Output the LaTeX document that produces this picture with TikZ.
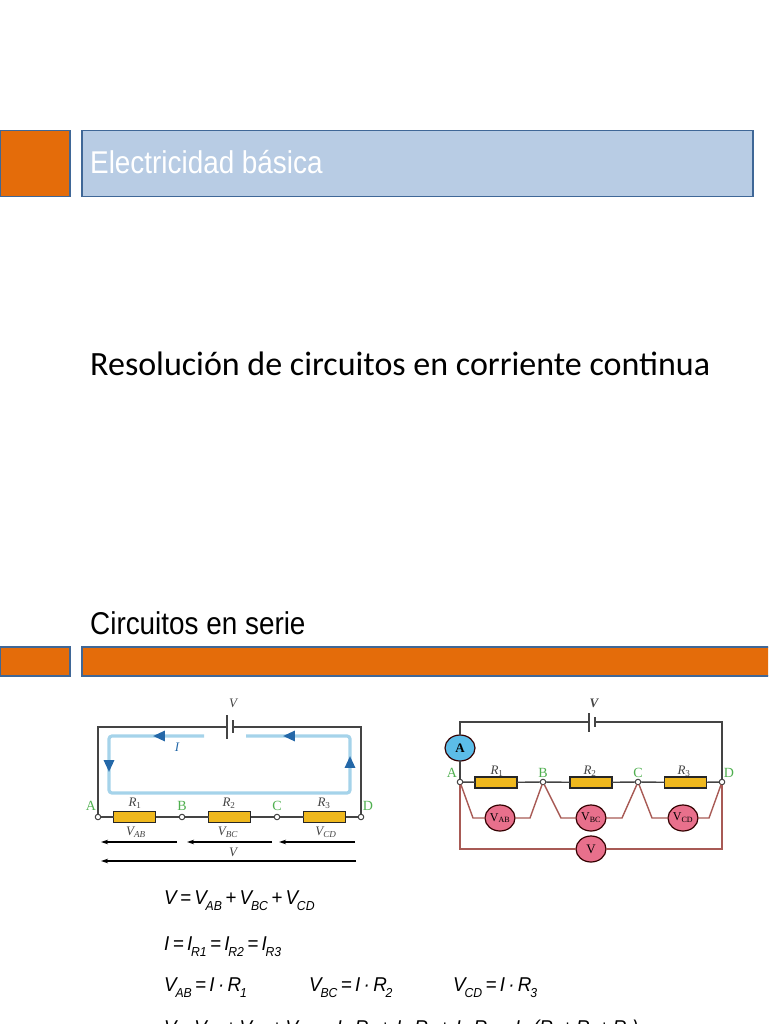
\documentclass[tikz,border=0pt]{standalone}
\usepackage{fontspec}
\setmainfont{Liberation Serif}
\newfontfamily\headfont[FakeStretch=0.885]{Liberation Sans}
\newfontfamily\slidefont{Carlito}
\newfontfamily\eqfont[FakeStretch=0.94]{Liberation Sans}
\definecolor{barorange}{HTML}{E46C0A}
\definecolor{barblue}{HTML}{B8CCE4}
\definecolor{baredge}{HTML}{3F6797}
\definecolor{flowblue}{HTML}{A5D3EA}
\definecolor{headblue}{HTML}{2468A8}
\definecolor{wiregray}{HTML}{444444}
\definecolor{wirered}{HTML}{A85A55}
\definecolor{resyellow}{HTML}{EFB81E}
\definecolor{labelgreen}{HTML}{4FAF4F}
\definecolor{ammblue}{HTML}{5CBDE8}
\definecolor{voltpink}{HTML}{E8708C}
\newcommand{\sbs}[2]{#1\kern-0.06em\raisebox{-0.3em}{\fontsize{13}{13}\selectfont #2}}
\tikzset{
  bar/.style={draw=baredge, line width=1.5pt},
  resbox/.style={draw=black!85, line width=1.4pt, fill=resyellow, minimum width=42pt, minimum height=11pt, inner sep=0pt, outer sep=0pt},
  junct/.style={circle, draw=wiregray, fill=white, line width=1pt, minimum size=5.5pt, inner sep=0pt, outer sep=0pt},
  letter/.style={text=labelgreen, font=\fontsize{14}{14}\selectfont},
  rlabel/.style={font=\fontsize{13}{13}\selectfont\itshape, text=wiregray},
  wire/.style={draw=wiregray, line width=1.4pt},
  rwire/.style={draw=wirered, line width=1.4pt},
  meter/.style={ellipse, draw=black!80!red, line width=1.2pt, fill=voltpink, minimum width=30pt, minimum height=26pt, inner sep=0pt, outer sep=0pt, font=\fontsize{12}{12}\selectfont},
  volt/.style={draw=black, line width=1.1pt, -{Stealth[length=7pt,width=4.5pt]}},
  flow/.style={draw=flowblue, line width=3.2pt, rounded corners=3pt},
  flowtip/.style={draw=none, fill=headblue, isosceles triangle, isosceles triangle apex angle=50, minimum height=9pt, minimum width=0pt, inner sep=2.8pt},
  eqn/.style={anchor=west, inner sep=0pt, font=\eqfont\itshape\fontsize{20}{20}\selectfont},
}
\usetikzlibrary{shapes.geometric,arrows.meta}
\begin{document}
\begin{tikzpicture}[x=1pt,y=-1pt]
      \useasboundingbox (0,0) rectangle (768,1024);
      \clip (0,0) rectangle (768,1024);
      % slide bars
      \node[bar, fill=barorange, minimum width=70pt, minimum height=66pt, anchor=north west, inner sep=0pt] (titlebox) at (-1,130) {};
      \node[bar, fill=barblue, minimum width=671pt, minimum height=66pt, anchor=north west, inner sep=0pt] (titlebar) at (81,130) {};
      \node[anchor=west, inner sep=0pt, text=white, font=\headfont\fontsize{31.5}{31.5}\selectfont] (title) at (90,162) {Electricidad básica};
      \node[anchor=west, inner sep=0pt, font=\slidefont\fontsize{34}{34}\selectfont] (subtitle) at (90,364) {Resolución de circuitos en corriente continua};
      \node[anchor=west, inner sep=0pt, font=\headfont\fontsize{31.5}{31.5}\selectfont] (serie) at (90,623) {Circuitos en serie};
      \node[bar, fill=barorange, minimum width=70pt, minimum height=29pt, anchor=north west, inner sep=0pt] (seriebox) at (-1,646) {};
      \node[bar, fill=barorange, minimum width=700pt, minimum height=29pt, anchor=north west, inner sep=0pt] (seriebar) at (81,646) {};
      % left circuit
      \node[junct] (a1) at (98,817) {};
      \node[junct] (b1) at (182,817) {};
      \node[junct] (c1) at (277,817) {};
      \node[junct] (d1) at (361,817) {};
      \node[resbox] (r11) at (134.5,817) {};
      \node[resbox] (r12) at (229.5,817) {};
      \node[resbox] (r13) at (324.5,817) {};
      \coordinate (p1) at (227,727);
      \coordinate (n1) at (233,727);
      \draw[wire] (a1) -- (r11) -- (b1) -- (r12) -- (c1) -- (r13) -- (d1);
      \draw[wire] (a1) |- (p1);
      \draw[wire] (d1) |- (n1);
      \draw[wiregray, line width=1.4pt] (227,715) -- (227,739);
      \draw[wiregray, line width=2.4pt] (233,720) -- (233,733);
      \node[rlabel] (top1) at (233,703) {V};
      \draw[flow] (204,736) -- (109,736) -- (109,793) -- (350,793) -- (350,736) -- (246,736);
      \node[flowtip, rotate=180] (h1) at (162,736) {};
      \node[flowtip, rotate=180] (h2) at (292,736) {};
      \node[flowtip, rotate=-90] (h3) at (109,763) {};
      \node[flowtip, rotate=90] (h4) at (350,765) {};
      \node[rlabel, text=headblue] (cur) at (177,747) {I};
      \node[letter] (la1) at (91,806) {A};
      \node[letter] (lb1) at (182,806) {B};
      \node[letter] (lc1) at (277,806) {C};
      \node[letter] (ld1) at (368,806) {D};
      \node[rlabel] at (135,803) {R\textsubscript{\upshape 1}};
      \node[rlabel] at (229,803) {R\textsubscript{\upshape 2}};
      \node[rlabel] at (324,803) {R\textsubscript{\upshape 3}};
      \node[rlabel] at (136,832) {V\textsubscript{AB}};
      \node[rlabel] at (228,832) {V\textsubscript{BC}};
      \node[rlabel] at (326,832) {V\textsubscript{CD}};
      \coordinate (s1) at (177,842);
      \coordinate (e1) at (101,842);
      \coordinate (s2) at (272,842);
      \coordinate (e2) at (187,842);
      \coordinate (s3) at (355,842);
      \coordinate (e3) at (279,842);
      \coordinate (s4) at (356,861);
      \coordinate (e4) at (101,861);
      \draw[volt] (s1) -- (e1);
      \draw[volt] (s2) -- (e2);
      \draw[volt] (s3) -- (e3);
      \draw[volt] (s4) -- (e4);
      \node[rlabel] (vall1) at (233,852) {V};
      % right circuit
      \node[junct] (a2) at (460,782) {};
      \node[junct] (b2) at (543,782) {};
      \node[junct] (c2) at (638,782) {};
      \node[junct] (d2) at (722,782) {};
      \node[resbox] (r21) at (496,782.5) {};
      \node[resbox] (r22) at (591,782.5) {};
      \node[resbox] (r23) at (685.5,782.5) {};
      \node[meter, fill=ammblue, font=\fontsize{13}{13}\selectfont\bfseries] (amp) at (460,748) {A};
      \node[meter] (vab) at (500,818) {V\textsubscript{AB}};
      \node[meter] (vbc) at (591,818) {V\textsubscript{BC}};
      \node[meter] (vcd) at (683,818) {V\textsubscript{CD}};
      \node[meter, font=\fontsize{13}{13}\selectfont] (vtot) at (591,849) {V};
      \coordinate (p2) at (589,722);
      \coordinate (n2) at (595,722);
      \draw[wire] (a2) -- (r21) -- (b2) -- (r22) -- (c2) -- (r23) -- (d2);
      \draw[wire] (a2) -- (amp);
      \draw[wire] (amp) |- (p2);
      \draw[wire] (d2) |- (n2);
      \draw[wiregray, line width=1.4pt] (589,713) -- (589,732);
      \draw[wiregray, line width=2.6pt] (595,717) -- (595,727);
      \node[rlabel, font=\fontsize{13}{13}\selectfont\bfseries\itshape] (top2) at (594,703) {V};
      \draw[rwire] (a2) -- (473,818) -- (vab);
      \draw[rwire] (vab) -- (530,818) -- (b2);
      \draw[rwire] (b2) -- (561,818) -- (vbc);
      \draw[rwire] (vbc) -- (622,818) -- (c2);
      \draw[rwire] (c2) -- (652,818) -- (vcd);
      \draw[rwire] (vcd) -- (709,818) -- (d2);
      \draw[rwire] (a2) |- (vtot);
      \draw[rwire] (d2) |- (vtot);
      \node[letter] (la2) at (452,773) {A};
      \node[letter] (lb2) at (543,773) {B};
      \node[letter] (lc2) at (638,773) {C};
      \node[letter] (ld2) at (729,773) {D};
      \node[rlabel] at (497,771) {R\textsubscript{\upshape 1}};
      \node[rlabel] at (590,771) {R\textsubscript{\upshape 2}};
      \node[rlabel] at (684,771) {R\textsubscript{\upshape 3}};
      % equations
      \node[eqn] (eq1) at (164,901) {V\,=\,\sbs{V}{AB}\,+\,\sbs{V}{BC}\,+\,\sbs{V}{CD}};
      \node[eqn] (eq2) at (164,947) {I\,=\,\sbs{I}{R1}\,=\,\sbs{I}{R2}\,=\,\sbs{I}{R3}};
      \node[eqn] (eq3a) at (164,988) {\sbs{V}{AB}\,=\,I\,·\,\sbs{R}{1}};
      \node[eqn] (eq3b) at (309,988) {\sbs{V}{BC}\,=\,I\,·\,\sbs{R}{2}};
      \node[eqn] (eq3c) at (453,988) {\sbs{V}{CD}\,=\,I\,·\,\sbs{R}{3}};
      \node[eqn] (eq4) at (164,1030) {V\,=\,\sbs{V}{AB}\,+\,\sbs{V}{BC}\,+\,\sbs{V}{CD}\;=\;I\,·\,\sbs{R}{1}\;+\;I\,·\,\sbs{R}{2}\;+\;I\,·\,\sbs{R}{3}\;=\;I\,·\,(\sbs{R}{1}\,+\,\sbs{R}{2}\,+\,\sbs{R}{3})};
    \end{tikzpicture}
\end{document}
